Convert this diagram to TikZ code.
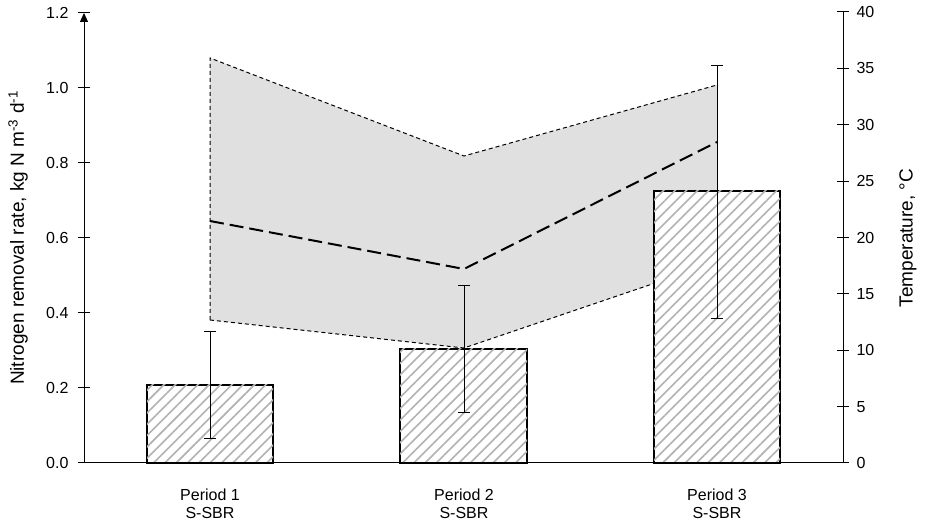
\documentclass[tikz,border=0pt]{standalone}
\usepackage{fontspec}
\setmainfont{Liberation Sans}
\usetikzlibrary{patterns.meta,arrows.meta}
\begin{document}
\begin{tikzpicture}[x=1pt,y=-1pt,
  tl/.style={font=\fontsize{16}{18}\selectfont},
  bar/.style={draw=black,line width=2pt,fill=white,postaction={pattern={Lines[angle=45,distance=8pt,line width=1.6pt]},pattern color=black!30}},
  eb/.style={line width=1pt},
  bnd/.style={dash pattern=on 4pt off 3pt,line width=1pt},
  mean/.style={dash pattern=on 14pt off 6pt,line width=2pt}]
\useasboundingbox (0,0) rectangle (927,526);
% shaded band
\coordinate (u1) at (210,58); \coordinate (u2) at (464,156); \coordinate (u3) at (717,85);
\coordinate (l1) at (210,320); \coordinate (l2) at (464,348); \coordinate (l3) at (717,262);
\fill[black!12] (u1)--(u2)--(u3)--(l3)--(l2)--(l1)--cycle;
\draw[bnd] (l1)--(u1)--(u2)--(u3);
\draw[bnd] (l1)--(l2)--(l3);
% bars
\path[bar] (147,463) rectangle (273,385);
\path[bar] (400,463) rectangle (527,349);
\path[bar] (654,463) rectangle (780,191);
% error bars
\foreach \x/\a/\b in {210/332/439, 464/286/413, 717/66/319}{
  \draw[eb] (\x,\a)--(\x,\b);
  \draw[eb] (\x-6,\a)--(\x+6,\a);
  \draw[eb] (\x-6,\b)--(\x+6,\b);
}
% mean temperature
\coordinate (m1) at (210,221); \coordinate (m2) at (464,269); \coordinate (m3) at (717,142);
\draw[mean] (m1)--(m2)--(m3);
% axes
\coordinate (o) at (84,463); \coordinate (top) at (84,13);
\coordinate (ro) at (843,463); \coordinate (rtop) at (843,12);
\draw[line width=1pt,-{Triangle[length=9pt,width=8pt]}] (o)--(top);
\draw[line width=1pt] (o)--(ro);
\draw[line width=1pt] (ro)--(rtop);
\foreach \v/\t in {0/0.0,1/0.2,2/0.4,3/0.6,4/0.8,5/1.0,6/1.2}{
  \pgfmathsetmacro\yy{463-\v*75}
  \draw[line width=1pt] (78,\yy)--(90,\yy);
  \node[tl,anchor=east] (ll\v) at (72,\yy) {\t};
}
\foreach \v in {0,5,...,40}{
  \pgfmathsetmacro\yy{463-\v*11.275}
  \draw[line width=1pt] (837,\yy)--(849,\yy);
  \node[tl,anchor=west] (rl\v) at (853,\yy) {\v};
}
\foreach \x/\n in {210/1,464/2,717/3}{
  \node[tl,align=center] (c\n) at (\x,504) {Period \n\\S-SBR};
}
\node[font=\fontsize{19}{21}\selectfont,rotate=90] (yl) at (18,238) {Nitrogen removal rate, kg N m\textsuperscript{-3} d\textsuperscript{-1}};
\node[font=\fontsize{19}{21}\selectfont,rotate=90] (yr) at (908,238) {Temperature, °C};
\end{tikzpicture}
\end{document}
